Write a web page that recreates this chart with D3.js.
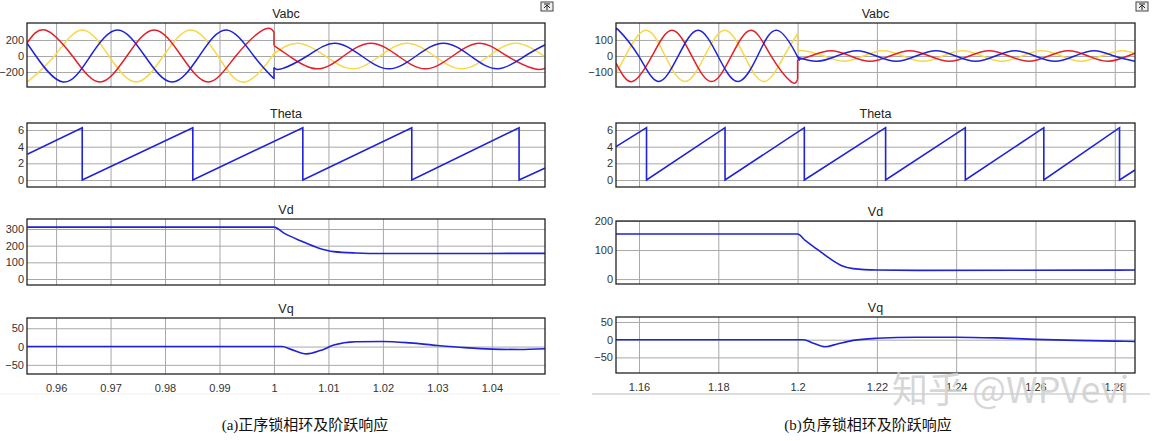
<!DOCTYPE html>
<html><head><meta charset="utf-8">
<script src="https://d3js.org/d3.v7.min.js"></script>
<style>body{margin:0;background:#fff}svg{display:block}</style>
</head><body>
<svg id="c" width="1152" height="441"></svg>
<script>
// ---------- DATA ----------
const titles = ["Vabc","Theta","Vd","Vq"];
const xTicksA = [0.96,0.97,0.98,0.99,1,1.01,1.02,1.03,1.04];
const xTicksB = [1.16,1.18,1.2,1.22,1.24,1.26,1.28];
const yTicksA = [[-200,0,200],[0,2,4,6],[0,100,200,300],[-50,0,50]];
const yTicksB = [[-100,0,100],[0,2,4,6],[0,100,200],[-50,0,50]];
// panel (a) Vabc
const aBluePre = [[.9547,157],[.9563,0],[.9613,-325],[.9663,0],[.9713,325],[.9763,0],[.9813,-325],[.9863,0],[.9913,325],[.9963,0],[1.0,-285]];
const aRedPre = [[.9547,165],[.958,325],[.963,0],[.968,-325],[.973,0],[.978,325],[.983,0],[.988,-325],[.993,0],[.998,325],[1.0,300]];
const aYelPre = [[.9547,-325],[.9597,0],[.9647,325],[.9697,0],[.9747,-325],[.9797,0],[.9847,325],[.9897,0],[.9947,-325],[.9997,0],[1.0,20]];
const aYelPost = [[1.0,28],[1.00445,160],[1.00945,0],[1.01445,-160],[1.01945,0],[1.02445,160],[1.02945,0],[1.03445,-160],[1.03945,0],[1.04445,160],[1.0498,-12]];
const aBluePost = [[1.0,-145],[1.0015,-158],[1.0061,0],[1.0111,160],[1.0161,0],[1.0211,-160],[1.0261,0],[1.0311,160],[1.0361,0],[1.0411,-160],[1.0461,0],[1.0498,140]];
const aRedPost = [[1.0,130],[1.0028,0],[1.0078,-160],[1.0128,0],[1.0178,160],[1.0228,0],[1.0278,-160],[1.0328,0],[1.0378,160],[1.0428,0],[1.0478,-160],[1.0498,-150]];
const aTheta = [[.9547,3.1],[.9648,6.28],[.9648,0],[.9851,6.28],[.9851,0],[1.0053,6.28],[1.0053,0],[1.0253,6.28],[1.0253,0],[1.045,6.28],[1.045,0],[1.0498,1.45]];
const aVd = [[.9547,311],[1.0,311],[1.002,272],[1.005,228],[1.008,188],[1.011,164],[1.015,156],[1.02,153],[1.03,153],[1.0498,154]];
const aVq = [[.9547,0],[1.0015,0],[1.003,-7],[1.006,-20],[1.0085,-11],[1.011,4],[1.015,13],[1.02,14],[1.025,10],[1.03,3],[1.035,-3],[1.04,-7],[1.045,-8],[1.0498,-6]];
// panel (b) Vabc
const bBluePre = [[1.1542,159],[1.1549,160],[1.1599,0],[1.1649,-160],[1.1699,0],[1.1749,160],[1.1799,0],[1.1849,-160],[1.1899,0],[1.1949,160],[1.1999,0],[1.2,-3]];
const bRedPre = [[1.1542,-45],[1.1583,-160],[1.1633,0],[1.1683,160],[1.1733,0],[1.1783,-160],[1.1833,0],[1.1883,160],[1.1933,0],[1.1983,-160],[1.2,-145]];
const bYelPre = [[1.1542,-109],[1.1566,0],[1.1616,160],[1.1666,0],[1.1716,-160],[1.1766,0],[1.1816,160],[1.1866,0],[1.1916,-160],[1.1966,0],[1.2,139]];
const bYelPost = [[1.2,30],[1.2016,33],[1.2066,0],[1.2116,-33],[1.2166,0],[1.2216,33],[1.2266,0],[1.2316,-33],[1.2366,0],[1.2416,33],[1.2466,0],[1.2516,-33],[1.2566,0],[1.2616,33],[1.2666,0],[1.2716,-33],[1.2766,0],[1.2816,33],[1.2851,15]];
const bRedPost = [[1.2,-25],[1.2033,0],[1.2083,33],[1.2133,0],[1.2183,-33],[1.2233,0],[1.2283,33],[1.2333,0],[1.2383,-33],[1.2433,0],[1.2483,33],[1.2533,0],[1.2583,-33],[1.2633,0],[1.2683,33],[1.2733,0],[1.2783,-33],[1.2833,0],[1.2851,18]];
const bBluePost = [[1.2,-8],[1.2049,-33],[1.2099,0],[1.2149,33],[1.2199,0],[1.2249,-33],[1.2299,0],[1.2349,33],[1.2399,0],[1.2449,-33],[1.2499,0],[1.2549,33],[1.2599,0],[1.2649,-33],[1.2699,0],[1.2749,33],[1.2799,0],[1.2851,-33]];
const bTheta = [[1.1542,4.0],[1.1619,6.28],[1.1619,0],[1.1817,6.28],[1.1817,0],[1.2017,6.28],[1.2017,0],[1.2222,6.28],[1.2222,0],[1.2423,6.28],[1.2423,0],[1.2621,6.28],[1.2621,0],[1.2812,6.28],[1.2812,0],[1.2851,1.2]];
const bVd = [[1.1542,155],[1.2,155],[1.202,132],[1.205,102],[1.208,72],[1.211,47],[1.214,36],[1.22,31],[1.23,30],[1.2851,31]];
const bVq = [[1.1542,0],[1.2015,0],[1.204,-10],[1.207,-20],[1.21,-12],[1.214,-2],[1.22,4],[1.23,7],[1.24,7],[1.25,5],[1.26,1],[1.27,-2],[1.28,-4],[1.2851,-5]];
const captions = ["(a)正序锁相环及阶跃响应","(b)负序锁相环及阶跃响应"];

// ---------- LAYOUT ----------
const C = {blue:"#1f22d6", red:"#e3202a", yel:"#f7d84a"};
const svg = d3.select("#c");
const panels = [
 {x0:27,x1:545,dom:[.95466,1.04976],xt:xTicksA,fmt:d=>String(d),
  rows:[{y:[23,87],d:[-387,412],t:yTicksA[0],series:[[aYelPre,C.yel],[aYelPost,C.yel],[aRedPre,C.red],[aRedPost,C.red],[aBluePre,C.blue],[aBluePost,C.blue]]},
        {y:[123,187],d:[-0.84,6.84],t:yTicksA[1],series:[[aTheta,C.blue,"lin"]]},
        {y:[219,285],d:[-36,360],t:yTicksA[2],series:[[aVd,C.blue,"mono"]]},
        {y:[318,374],d:[-75,78],t:yTicksA[3],series:[[aVq,C.blue,"mono"]]}],
  cap:305, icon:545},
 {x0:616,x1:1135,dom:[1.1542,1.2851],xt:xTicksB,fmt:d=>String(d),
  rows:[{y:[23,87],d:[-194,206],t:yTicksB[0],series:[[bYelPre,C.yel],[bYelPost,C.yel],[bRedPre,C.red],[bRedPost,C.red],[bBluePre,C.blue],[bBluePost,C.blue]]},
        {y:[123,187],d:[-0.84,6.84],t:yTicksB[1],series:[[bTheta,C.blue,"lin"]]},
        {y:[221,284],d:[-17,200],t:yTicksB[2],series:[[bVd,C.blue,"mono"]]},
        {y:[317,373],d:[-94,64],t:yTicksB[3],series:[[bVq,C.blue,"mono"]]}],
  cap:868, icon:1140}
];
const F = "Arial, 'Liberation Sans', sans-serif";
panels.forEach((p,pi)=>{
  const x = d3.scaleLinear().domain(p.dom).range([p.x0,p.x1]);
  p.rows.forEach((r,ri)=>{
    const y = d3.scaleLinear().domain(r.d).range([r.y[1],r.y[0]]);
    const g = svg.append("g");
    g.append("rect").attr("x",p.x0).attr("y",r.y[0]).attr("width",p.x1-p.x0).attr("height",r.y[1]-r.y[0]).attr("fill","#fff");
    g.append("g").attr("transform",`translate(0,${r.y[1]})`)
     .call(d3.axisBottom(x).tickValues(p.xt).tickSize(-(r.y[1]-r.y[0])).tickFormat(""))
     .call(a=>{a.select(".domain").remove();a.selectAll("line").attr("stroke","#a8a8a8").attr("stroke-width",1);});
    g.append("g").attr("transform",`translate(${p.x0},0)`)
     .call(d3.axisLeft(y).tickValues(r.t).tickSize(-(p.x1-p.x0)).tickPadding(3))
     .call(a=>{a.select(".domain").remove();a.selectAll("line").attr("stroke","#a8a8a8");
       a.selectAll("text").attr("font-family",F).attr("font-size",11).attr("fill","#333");});
    const clip = "clip"+pi+ri;
    g.append("clipPath").attr("id",clip).append("rect").attr("x",p.x0).attr("y",r.y[0]).attr("width",p.x1-p.x0).attr("height",r.y[1]-r.y[0]);
    r.series.forEach(s=>{
      const curve = s[2]==="lin"?d3.curveLinear:(s[2]==="mono"?d3.curveMonotoneX:d3.curveNatural);
      const line = d3.line().x(d=>x(d[0])).y(d=>y(d[1])).curve(curve);
      g.append("path").attr("clip-path",`url(#${clip})`).attr("d",line(s[0])).attr("fill","none")
       .attr("stroke",s[1]).attr("stroke-width",s[2]?1.6:1.5);
    });
    if(ri===0){
      for(let k=0;k<6;k+=2){
        const a=r.series[k][0], b=r.series[k+1][0];
        g.append("path").attr("d",d3.line()([[x(a[a.length-1][0]),y(a[a.length-1][1])],[x(b[0][0]),y(b[0][1])]]))
         .attr("stroke",r.series[k][1]).attr("stroke-width",1.5);
      }
    }
    g.append("rect").attr("x",p.x0).attr("y",r.y[0]).attr("width",p.x1-p.x0).attr("height",r.y[1]-r.y[0])
     .attr("fill","none").attr("stroke","#222").attr("stroke-width",1.3);
    g.append("text").attr("x",(p.x0+p.x1)/2).attr("y",r.y[0]-5).attr("text-anchor","middle")
     .attr("font-family",F).attr("font-size",12.5).attr("fill","#222").text(titles[ri]);
    if(ri===3){
      svg.append("g").attr("transform",`translate(0,${r.y[1]})`)
       .call(d3.axisBottom(x).tickValues(p.xt).tickSize(0).tickPadding(10).tickFormat(p.fmt))
       .call(a=>{a.select(".domain").remove();a.selectAll("text").attr("font-family",F).attr("font-size",11).attr("fill","#333");});
    }
  });
  const ic = svg.append("g").attr("transform",`translate(${p.icon-4},2)`);
  ic.append("rect").attr("width",12).attr("height",9).attr("fill","#eee").attr("stroke","#444");
  ic.append("path").attr("d","M3,6 L6,3 L9,6 M6,3 L6,8 M3,2 L9,2").attr("stroke","#222").attr("fill","none");
  svg.append("text").attr("x",p.cap).attr("y",430).attr("text-anchor","middle")
   .attr("font-family","'Liberation Serif','Noto Sans CJK SC',serif").attr("font-size",15).attr("fill","#111").text(captions[pi]);
});
svg.append("line").attr("x1",0).attr("x2",560).attr("y1",394).attr("y2",394).attr("stroke","#f0f0f0");
svg.append("line").attr("x1",592).attr("x2",1150).attr("y1",394).attr("y2",394).attr("stroke","#bbb");
svg.append("text").attr("x",892).attr("y",403).attr("font-family","'Noto Sans CJK SC',sans-serif").attr("font-size",36)
 .attr("fill","#cfcfcf").attr("fill-opacity",0.85).text("知乎 @WPVevi");
</script></body></html>
